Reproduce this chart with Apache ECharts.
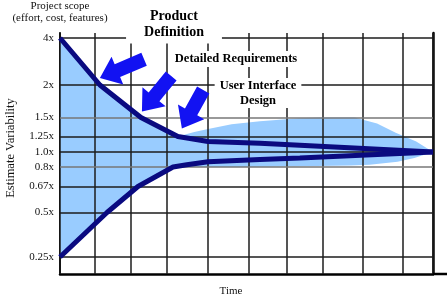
<!DOCTYPE html>
<html>
<head>
<meta charset="utf-8">
<script src="https://cdn.jsdelivr.net/npm/echarts@6/dist/echarts.min.js"></script>
<style>
  html, body { margin: 0; padding: 0; background: #fff; }
  #main { width: 447px; height: 296px; }
</style>
</head>
<body>
<div id="main"></div>
<script>
// scope axis (hand drawn, not a true log scale)
const scopeTicks = [0.25, 0.5, 0.67, 0.8, 1.0, 1.25, 1.5, 2, 4];
const scopeLabels = ['0.25x', '0.5x', '0.67x', '0.8x', '1.0x', '1.25x', '1.5x', '2x', '4x'];
// time grid lines (unlabelled)
const timeGrid = [0, 0.94, 1.9, 2.87, 3.97, 5.07, 6.09, 7.05, 8.12, 9.2, 10];

// cone of uncertainty: upper and lower bound
const upperTime = [0, 1.07, 2.17, 3.16, 3.97, 5.36, 6.43, 10];
const upperScope = [4, 2, 1.5, 1.25, 1.17, 1.14, 1.11, 1.0];
const lowerTime = [0, 1.26, 2.09, 3.03, 3.4, 3.97, 5.36, 6.43, 10];
const lowerScope = [0.25, 0.5, 0.67, 0.8, 0.83, 0.87, 0.9, 0.92, 1.0];

// light blue envelope
const envTopTime = [0, 1.07, 2.17, 3.16, 3.6, 3.97, 4.6, 5.36, 6.4, 7.0, 7.9, 8.5, 9.0, 9.55, 10];
const envTopScope = [4, 2, 1.5, 1.25, 1.31, 1.35, 1.41, 1.45, 1.49, 1.5, 1.5, 1.42, 1.3, 1.17, 1.0];
const envBotTime = [0, 1.26, 2.09, 3.03, 5.0, 7.8, 8.3, 9.05, 9.5, 10];
const envBotScope = [0.25, 0.5, 0.67, 0.8, 0.8, 0.82, 0.83, 0.87, 0.92, 1.0];

// layout: height of each scope tick on the axis (0 = plot bottom)
const tickHeights = [17, 61.5, 87.5, 107, 122, 137.5, 156.5, 189, 236];
const axisTop = 241;

function toLevel(v) {
  for (let i = 0; i < scopeTicks.length - 1; i++) {
    if (v <= scopeTicks[i + 1]) {
      const f = (v - scopeTicks[i]) / (scopeTicks[i + 1] - scopeTicks[i]);
      return tickHeights[i] + f * (tickHeights[i + 1] - tickHeights[i]);
    }
  }
  return tickHeights[tickHeights.length - 1];
}
function pairs(ts, vs) { return ts.map((t, i) => [t, toLevel(vs[i])]); }

const serif = 'Liberation Serif';
const navy = '#0a0a80';
const gridColor = '#1c1c1c';

const chart = echarts.init(document.getElementById('main'), null, { renderer: 'canvas' });

const gridLines = [];
timeGrid.forEach(t => gridLines.push({ xAxis: t, label: { show: false } }));
scopeTicks.forEach((v, i) => gridLines.push({
  yAxis: tickHeights[i],
  label: { show: true, formatter: scopeLabels[i] },
  lineStyle: (v === 1.5 || v === 0.8) ? { color: '#777' } : {}
}));

const option = {
  animation: false,
  grid: { left: 60, right: 14, top: 33, bottom: 22 },
  xAxis: {
    type: 'value', min: 0, max: 10,
    axisLine: { lineStyle: { color: '#000', width: 2.5 } },
    axisTick: { show: false }, axisLabel: { show: false }, splitLine: { show: false }
  },
  yAxis: [{
    type: 'value', min: 0, max: axisTop,
    axisLine: { show: true, lineStyle: { color: '#000', width: 2 } },
    axisTick: { show: false }, axisLabel: { show: false }, splitLine: { show: false }
  }, {
    type: 'value', min: 0, max: axisTop, position: 'right',
    axisLine: { show: true, lineStyle: { color: '#000', width: 2.5 } },
    axisTick: { show: false }, axisLabel: { show: false }, splitLine: { show: false }
  }],
  series: [{
    type: 'custom',
    z: 1,
    silent: true,
    data: [[0, 0]],
    renderItem: function (params, api) {
      const top = pairs(envTopTime, envTopScope).map(p => api.coord(p));
      const bot = pairs(envBotTime, envBotScope).map(p => api.coord(p)).reverse();
      return { type: 'polygon', shape: { points: top.concat(bot) }, style: { fill: '#99ccff' } };
    }
  }, {
    type: 'line',
    z: 3,
    data: [],
    markLine: {
      z: 3,
      silent: true,
      symbol: ['none', 'none'],
      lineStyle: { color: gridColor, width: 1.5, type: 'solid' },
      label: { position: 'start', distance: 6, color: '#111', fontFamily: serif, fontSize: 11 },
      emphasis: { disabled: true },
      data: gridLines
    }
  }, {
    name: 'upper', type: 'line', z: 6, showSymbol: false, silent: true,
    lineStyle: { color: navy, width: 5 },
    data: pairs(upperTime, upperScope)
  }, {
    name: 'lower', type: 'line', z: 6, showSymbol: false, silent: true,
    lineStyle: { color: navy, width: 5 },
    data: pairs(lowerTime, lowerScope)
  }]
};
chart.setOption(option);

// block arrows pointing at the milestones on the upper curve
const arrows = [
  { at: 1, off: [0, -7], dir: [-0.92, 0.39], len: 48 },
  { at: 2, off: [1, -6], dir: [-0.636, 0.772], len: 46 },
  { at: 3, off: [4, -8], dir: [-0.485, 0.875], len: 44 }
];
function arrowPoints(tip, d, len, sw, hw, hl) {
  const n = [-d[1], d[0]];
  const S = [tip[0] - d[0] * len, tip[1] - d[1] * len];
  const B = [tip[0] - d[0] * hl, tip[1] - d[1] * hl];
  const p = (c, k) => [c[0] + n[0] * k, c[1] + n[1] * k];
  return [p(S, sw / 2), p(B, sw / 2), p(B, hw / 2), tip, p(B, -hw / 2), p(B, -sw / 2), p(S, -sw / 2)];
}
const graphics = arrows.map(a => {
  const c = chart.convertToPixel({ xAxisIndex: 0, yAxisIndex: 0 }, [upperTime[a.at], toLevel(upperScope[a.at])]);
  const tip = [c[0] + a.off[0], c[1] + a.off[1]];
  return {
    type: 'polygon', z: 20, silent: true,
    shape: { points: arrowPoints(tip, a.dir, a.len, 14, 30, 19) },
    style: { fill: '#1212f2' }
  };
});

// x axis line runs a little past the right border
const axisEnd = chart.convertToPixel({ xAxisIndex: 0, yAxisIndex: 0 }, [10, 0]);
graphics.push({
  type: 'line', z: 20, silent: true,
  shape: { x1: axisEnd[0], y1: axisEnd[1], x2: 447, y2: axisEnd[1] },
  style: { stroke: '#000', lineWidth: 2.5 }
});

function label(text, x, y, size, bold, extra) {
  return {
    type: 'text', x: x, y: y, z: 30, silent: true,
    style: Object.assign({
      text: text, fill: '#111', align: 'center', verticalAlign: 'middle',
      font: (bold ? 'bold ' : '') + size + 'px "' + serif + '"'
    }, extra || {})
  };
}
graphics.push(
  label('Project scope', 60, 6, 11, false),
  label('(effort, cost, features)', 60, 18, 11, false),
  label('Time', 231, 291, 11, false),
  Object.assign(label('Estimate Variability', 11, 148, 12.5, false), { rotation: Math.PI / 2 }),
  label('Product\nDefinition', 174, 24, 14, true,
    { lineHeight: 16, backgroundColor: '#fff', padding: [4, 18, 3, 18], fill: '#000' }),
  label('Detailed Requirements', 236, 59, 12.5, true,
    { lineHeight: 14, backgroundColor: '#fff', padding: [1, 6, 1, 6], fill: '#000' }),
  label('User Interface\nDesign', 258, 93, 12.5, true,
    { lineHeight: 15, backgroundColor: '#fff', padding: [0, 5, 0, 5], fill: '#000' })
);
chart.setOption({ graphic: graphics });
</script>
</body>
</html>
